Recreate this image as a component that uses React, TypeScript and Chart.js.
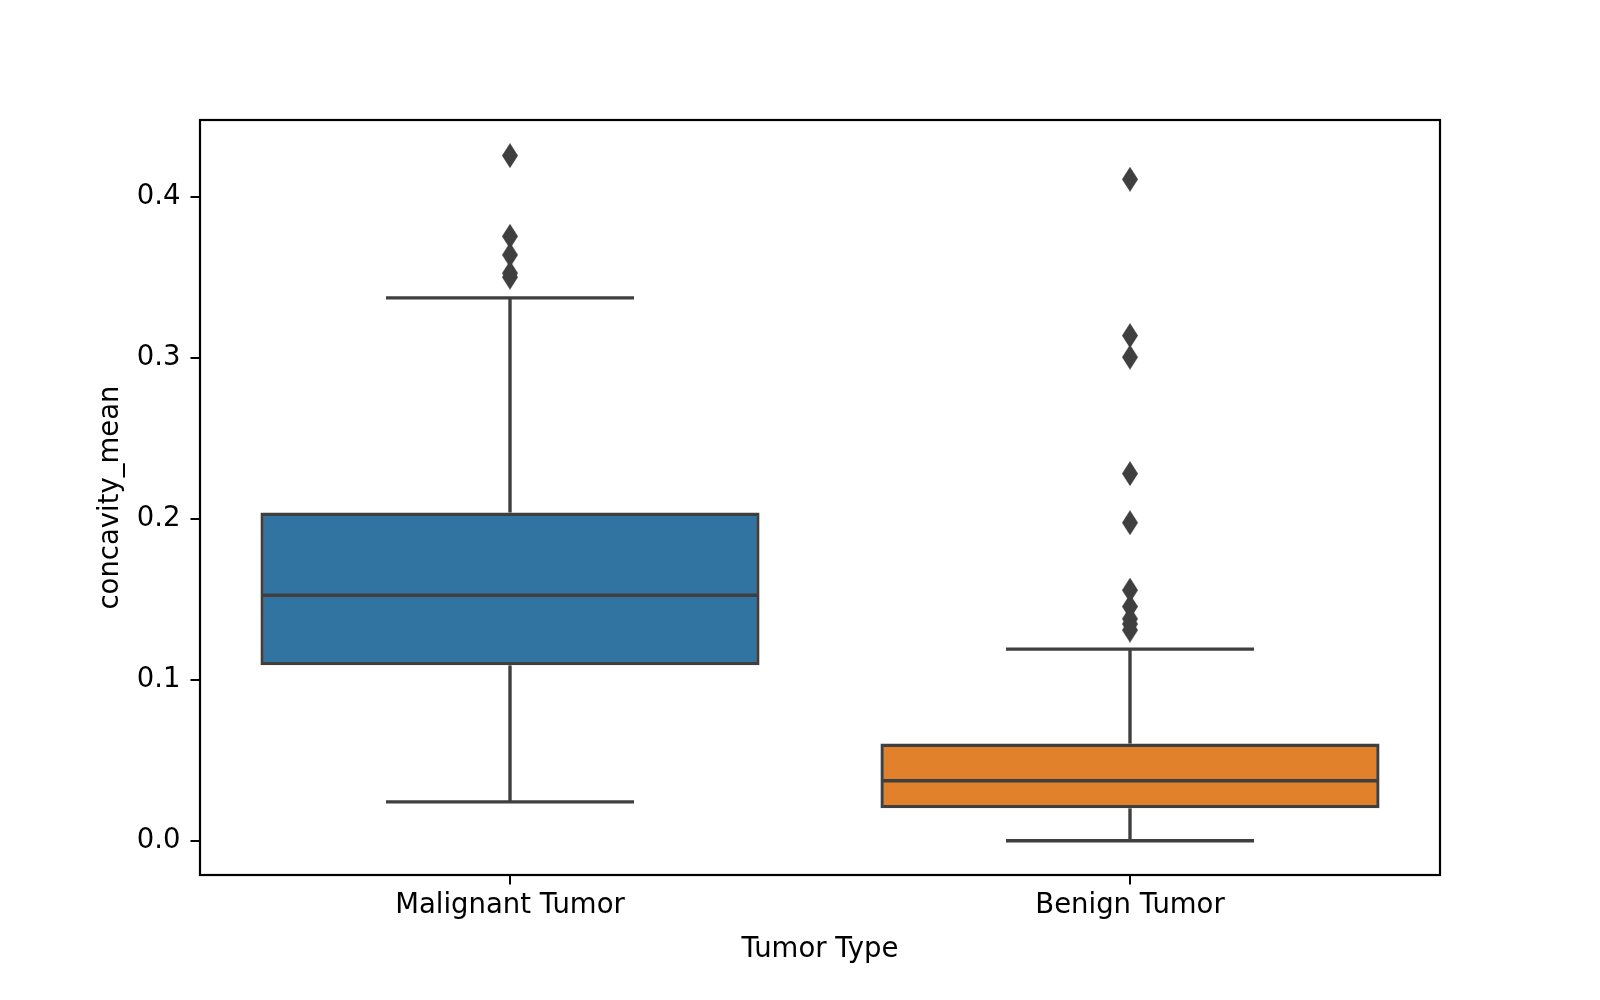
import React, { useEffect, useRef } from 'react';
import { Chart, registerables } from 'chart.js';

Chart.register(...registerables);

// Box statistics
const categories = ['Malignant Tumor', 'Benign Tumor'];
const q1Values = [0.1089, 0.0201];
const medianValues = [0.1524, 0.0372];
const q3Values = [0.2038, 0.0603];
const whiskerLow = [0.0241, 0.0];
const whiskerHigh = [0.3371, 0.119];
const malignantOutliers = [0.4255, 0.3754, 0.3638, 0.3525, 0.35];
const benignOutliers = [0.4108, 0.3137, 0.3003, 0.228, 0.1975, 0.1556, 0.1454, 0.1378, 0.1346, 0.1308];
const yTicks = [0, 0.1, 0.2, 0.3, 0.4];

const boxColors = ['#3274a1', '#e1812c'];
const EDGE = '#3f3f3f';
const FONT = "'DejaVu Sans', sans-serif";
const FONT_SIZE = 27.5;

// thin diamond marker like matplotlib's 'd'
const makeDiamond = () => {
  const c = document.createElement('canvas');
  c.width = 16;
  c.height = 25;
  const g = c.getContext('2d');
  if (g) {
    g.fillStyle = EDGE;
    g.beginPath();
    g.moveTo(8, 0);
    g.lineTo(16, 12.5);
    g.lineTo(8, 25);
    g.lineTo(0, 12.5);
    g.closePath();
    g.fill();
  }
  return c;
};

const whiskerPlugin = {
  id: 'whiskers',
  afterDatasetsDraw(chart: any) {
    const { ctx, scales: { x, y }, chartArea } = chart;
    const catW = x.width / categories.length;
    const line = (x1: number, y1: number, x2: number, y2: number) => {
      ctx.beginPath();
      ctx.moveTo(x1, y1);
      ctx.lineTo(x2, y2);
      ctx.stroke();
    };
    ctx.save();
    ctx.strokeStyle = EDGE;
    ctx.lineWidth = 3.4;
    ctx.lineCap = 'butt';
    categories.forEach((_, i) => {
      const cx = x.getPixelForValue(i);
      line(cx, y.getPixelForValue(q3Values[i]), cx, y.getPixelForValue(whiskerHigh[i]));
      line(cx, y.getPixelForValue(q1Values[i]), cx, y.getPixelForValue(whiskerLow[i]));
      const capW = catW * 0.2;
      line(cx - capW, y.getPixelForValue(whiskerHigh[i]), cx + capW, y.getPixelForValue(whiskerHigh[i]));
      line(cx - capW, y.getPixelForValue(whiskerLow[i]), cx + capW, y.getPixelForValue(whiskerLow[i]));
      const boxW = catW * 0.4;
      line(cx - boxW, y.getPixelForValue(medianValues[i]), cx + boxW, y.getPixelForValue(medianValues[i]));
    });
    // axes frame
    ctx.strokeStyle = '#000';
    ctx.lineWidth = 2.2;
    ctx.strokeRect(chartArea.left, chartArea.top, chartArea.right - chartArea.left, chartArea.bottom - chartArea.top);
    ctx.restore();
  },
};

export default function App() {
  const chartRef = useRef<HTMLCanvasElement>(null);
  const chartInstance = useRef<Chart | null>(null);

  useEffect(() => {
    document.body.style.margin = '0';
    if (!chartRef.current) return;
    if (chartInstance.current) chartInstance.current.destroy();
    const ctx = chartRef.current.getContext('2d');
    if (!ctx) return;

    const diamond = makeDiamond();

    chartInstance.current = new Chart(ctx, {
      type: 'bar',
      data: {
        labels: categories,
        datasets: [
          {
            type: 'bar',
            data: categories.map((_, i) => [q1Values[i], q3Values[i]]) as any,
            backgroundColor: boxColors,
            borderColor: EDGE,
            borderWidth: 3.4,
            borderSkipped: false,
            barPercentage: 0.805,
            categoryPercentage: 1,
          },
          {
            type: 'scatter',
            data: [
              ...malignantOutliers.map(v => ({ x: categories[0], y: v })),
              ...benignOutliers.map(v => ({ x: categories[1], y: v })),
            ] as any,
            pointStyle: diamond as any,
            pointRadius: 8,
          },
        ],
      },
      options: {
        responsive: false,
        animation: false,
        devicePixelRatio: 1,
        layout: { padding: { left: 0, right: 160, top: 120, bottom: 0 } },
        plugins: {
          legend: { display: false },
          tooltip: { enabled: false },
        },
        scales: {
          x: {
            type: 'category',
            offset: true,
            grid: { display: true, offset: false, drawOnChartArea: false, drawTicks: true, tickLength: 9.5, color: '#000', lineWidth: 2 },
            border: { display: false },
            ticks: { color: '#000', font: { family: FONT, size: FONT_SIZE }, padding: 5, maxRotation: 0 },
            title: { display: true, text: 'Tumor Type', color: '#000', font: { family: FONT, size: FONT_SIZE }, padding: { top: 0, bottom: 34 } },
            afterFit: (scale: any) => { scale.height = 125; },
          },
          y: {
            type: 'linear',
            min: -0.0213,
            max: 0.4476,
            afterBuildTicks: (scale: any) => { scale.ticks = yTicks.map(v => ({ value: v })); },
            grid: { display: true, drawOnChartArea: false, drawTicks: true, tickLength: 9.5, color: '#000', lineWidth: 2 },
            border: { display: false },
            ticks: {
              color: '#000',
              font: { family: FONT, size: FONT_SIZE },
              padding: 10,
              callback: (v: any) => Number(v).toFixed(1),
            },
            title: { display: true, text: 'concavity_mean', color: '#000', font: { family: FONT, size: FONT_SIZE }, padding: { top: 94, bottom: 0 } },
            afterFit: (scale: any) => { scale.width = 200; },
          },
        },
      },
      plugins: [whiskerPlugin],
    });

    return () => {
      if (chartInstance.current) chartInstance.current.destroy();
    };
  }, []);

  return (
    <div style={{ width: 1600, height: 1000, background: '#fff' }}>
      <canvas ref={chartRef} width={1600} height={1000} style={{ display: 'block', width: 1600, height: 1000 }}></canvas>
    </div>
  );
}
